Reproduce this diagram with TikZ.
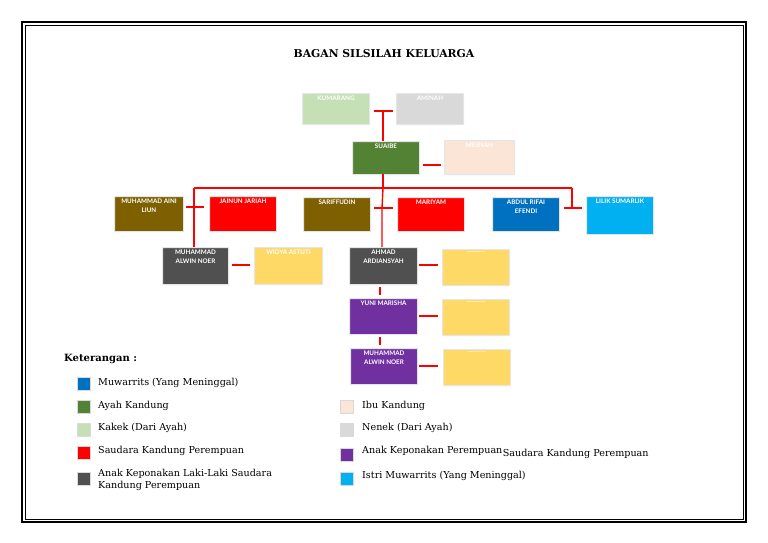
\documentclass[tikz,border=0pt]{standalone}
\usepackage{fontspec}
\setmainfont{DejaVu Serif}
\setsansfont{Lato}
\begin{document}
\begin{tikzpicture}[x=1pt,y=-1pt,
 box/.style={draw=white!90!black,line width=1pt,inner sep=0pt,anchor=north west,rounded corners=0.5pt},
 lbl/.style={anchor=north,font=\sffamily\bfseries\fontsize{6.3}{9.5}\selectfont,text=white,align=center,inner sep=2.5pt},
 ln/.style={red,line width=1.4pt},
 leg/.style={anchor=west,font=\fontsize{9.6}{11.5}\selectfont,align=left,inner sep=0pt},
 sq/.style={minimum size=13pt,inner sep=0pt,draw=white!85!black}]
\useasboundingbox (0,0) rectangle (768,543);
\fill[white] (0,0) rectangle (768,543);
\draw[line width=1.6pt] (22,22) rectangle (746,522);
\draw[line width=0.5pt] (25,25) rectangle (743,519);
\node[font=\bfseries\fontsize{10.8}{12}\selectfont] (title) at (384,54) {BAGAN SILSILAH KELUARGA};
\definecolor{brn}{HTML}{7F6000}\definecolor{blu}{HTML}{0070C0}\definecolor{lbl}{HTML}{00B0F0}
\definecolor{grn}{HTML}{548235}\definecolor{lgr}{HTML}{C5E0B4}\definecolor{lgy}{HTML}{D9D9D9}
\definecolor{pch}{HTML}{FBE5D6}\definecolor{dgy}{HTML}{505050}\definecolor{pur}{HTML}{7030A0}
\definecolor{yel}{HTML}{FFD966}
\newcommand{\bx}[7]{\node[box,fill=#6,minimum width=#4pt,minimum height=#5pt] (#1) at (#2,#3) {}; \node[lbl] at (#1.north) {#7};}
\bx{kum}{302}{93}{67}{31}{lgr}{KUMARANG}
\bx{ami}{396}{93}{67}{31}{lgy}{AMINAH}
\bx{sua}{352}{141}{67}{33}{grn}{SUAIBE}
\bx{mes}{444}{140}{70}{34}{pch}{MESNAH}
\bx{aini}{114}{196}{69}{35}{brn}{MUHAMMAD AINI\\LIUN}
\bx{jai}{209}{196}{67}{35}{red}{JAINUN JARIAH}
\bx{sar}{303}{197}{67}{34}{brn}{SARIFFUDIN}
\bx{mar}{397}{197}{67}{34}{red}{MARIYAM}
\bx{abd}{492}{197}{67}{34}{blu}{ABDUL RIFAI\\EFENDI}
\bx{lil}{586}{196}{67}{38}{lbl}{LILIK SUMARLIK}
\bx{alw}{162}{247}{66}{37}{dgy}{MUHAMMAD\\ALWIN NOER}
\bx{wid}{254}{247}{68}{37}{yel}{WIDYA ASTUTI}
\bx{ahm}{349}{247}{68}{37}{dgy}{AHMAD\\ARDIANSYAH}
\bx{y1}{442}{249}{67}{36}{yel}{............}
\bx{yun}{349}{298}{68}{36}{pur}{YUNI MARISHA}
\bx{y2}{442}{299}{67}{36}{yel}{............}
\bx{alw2}{350}{348}{67}{36}{pur}{MUHAMMAD\\ALWIN NOER}
\bx{y3}{443}{349}{67}{36}{yel}{............}
\draw[ln] (374,111) -- (393,111); \draw[ln] (383,111) -- (383,141);
\draw[ln] (423,165) -- (441,165);
\draw[ln] (383,174) -- (383,188);
\draw[ln] (194,188) -- (572,188);
\draw[ln] (194,188) -- (194,247);
\draw[ln] (186,207) -- (204,207);
\draw[ln] (383,188) -- (382,208) -- (382,247);
\draw[ln] (374,208) -- (393,208);
\draw[ln] (572,188) -- (572,208);
\draw[ln] (564,208) -- (582,208);
\draw[ln] (232,265) -- (250,265);
\draw[ln] (419,265) -- (438,265);
\draw[ln] (380,287) -- (380,295);
\draw[ln] (419,316) -- (438,316);
\draw[ln] (380,337) -- (380,345);
\draw[ln] (419,366) -- (438,366);
\node[anchor=west,font=\bfseries\fontsize{10}{12}\selectfont,inner sep=0pt] (ket) at (64,359) {Keterangan :};
\node[sq,fill=blu] (s1) at (84,384) {}; \node[leg] (t1) at (98,383) {Muwarrits (Yang Meninggal)};
\node[sq,fill=grn] (s2) at (84,407) {}; \node[leg] (t2) at (98,406) {Ayah Kandung};
\node[sq,fill=lgr] (s3) at (84,430) {}; \node[leg] (t3) at (98,428) {Kakek (Dari Ayah)};
\node[sq,fill=red] (s4) at (84,453) {}; \node[leg] (t4) at (98,451) {Saudara Kandung Perempuan};
\node[sq,fill=dgy] (s5) at (84,479) {}; \node[leg] (t5) at (98,480) {Anak Keponakan Laki-Laki Saudara\\Kandung Perempuan};
\node[sq,fill=pch] (r2) at (347,407) {}; \node[leg] (u2) at (362,406) {Ibu Kandung};
\node[sq,fill=lgy] (r3) at (347,430) {}; \node[leg] (u3) at (362,428) {Nenek (Dari Ayah)};
\node[sq,fill=pur] (r4) at (347,455) {}; \node[leg] (u4) at (362,451) {Anak Keponakan Perempuan};
\node[leg,anchor=north west] (u4b) at (u4.east |- 0,449) {Saudara Kandung Perempuan};
\node[sq,fill=lbl] (r5) at (347,479) {}; \node[leg] (u5) at (362,476) {Istri Muwarrits (Yang Meninggal)};
\end{tikzpicture}
\end{document}
